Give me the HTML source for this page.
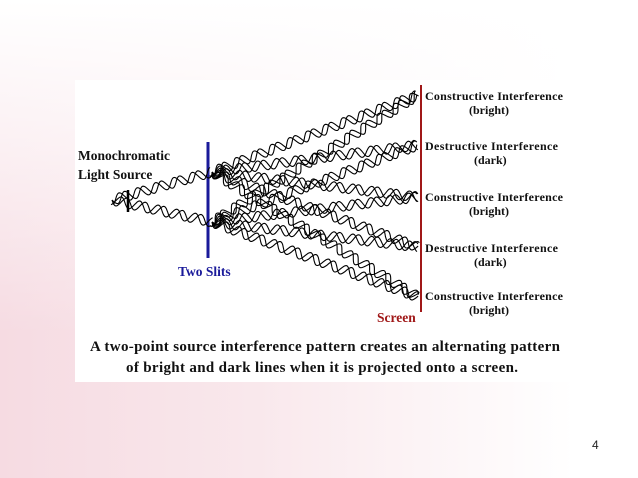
<!DOCTYPE html>
<html><head><meta charset="utf-8"><style>
html,body{margin:0;padding:0}
body{width:638px;height:478px;overflow:hidden;position:relative;
background:linear-gradient(to right,#f6dbe2 0%,#f9e8ec 40%,#ffffff 90%);}
.top{position:absolute;left:0;top:0;width:638px;height:478px;background:linear-gradient(to bottom,rgba(255,255,255,1) 0%,rgba(255,255,255,0.6) 30%,rgba(255,255,255,0) 70%)}
.box{position:absolute;left:75px;top:80px;width:530px;height:302px;background:#fff}
svg{position:absolute;left:0;top:0}
text{font-family:"Liberation Serif",serif;font-weight:bold}
.num{position:absolute;left:592px;top:438px;font:12px "Liberation Sans",sans-serif;color:#222}
</style></head><body>
<div class="top"></div>
<div class="box"></div>
<svg width="638" height="478" id="s">
<line x1="208" y1="142" x2="208" y2="258" stroke="#1a1a9a" stroke-width="3"/>
<line x1="421" y1="85" x2="421" y2="312" stroke="#a01818" stroke-width="2"/>
<line x1="128" y1="190" x2="128" y2="212" stroke="#000" stroke-width="2.5"/>
<g id="w" fill="none" stroke="#000" stroke-width="1.1"></g>
<text x="78" y="160" font-size="13.5" fill="#111">Monochromatic</text>
<text x="78" y="179" font-size="13.5" fill="#111">Light Source</text>
<text x="178" y="276" font-size="13.5" fill="#1a1a9a">Two Slits</text>
<text x="377" y="322" font-size="13.5" fill="#a01818">Screen</text>
<g font-size="12" fill="#111">
<text x="425" y="100" textLength="138">Constructive Interference</text><text x="469" y="114">(bright)</text>
<text x="425" y="150" textLength="133">Destructive Interference</text><text x="474" y="164">(dark)</text>
<text x="425" y="201" textLength="138">Constructive Interference</text><text x="469" y="215">(bright)</text>
<text x="425" y="252" textLength="133">Destructive Interference</text><text x="474" y="266">(dark)</text>
<text x="425" y="300" textLength="138">Constructive Interference</text><text x="469" y="314">(bright)</text>
</g>
<g font-size="15" fill="#111">
<text x="90" y="351" textLength="470">A two-point source interference pattern creates an alternating pattern</text>
<text x="126" y="372" textLength="392">of bright and dark lines when it is projected onto a screen.</text>
</g>
</svg>
<div class="num">4</div>
<script>
var g=document.getElementById('w');
function wave(x1,y1,x2,y2,ph){var dx=x2-x1,dy=y2-y1,L=Math.hypot(dx,dy),ux=dx/L,uy=dy/L,nx=-uy,ny=ux,d='';
for(var t=0;t<=L;t+=1){var a=5*Math.sin(t/19*2*Math.PI+ph);var x=x1+ux*t+nx*a,y=y1+uy*t+ny*a;d+=(t?'L':'M')+x.toFixed(1)+' '+y.toFixed(1);}
var p=document.createElementNS('http://www.w3.org/2000/svg','path');p.setAttribute('d',d);g.appendChild(p);}
function ray(a,b,c,d){wave(a,b,c,d,0);wave(a,b,c,d,Math.PI*0.6);}
ray(112,200,212,172);ray(112,200,212,222);
var sy=[95,145,197,247,297];
sy.forEach(function(y){ray(212,172,418,y);ray(212,222,418,y);});
</script>
</body></html>
